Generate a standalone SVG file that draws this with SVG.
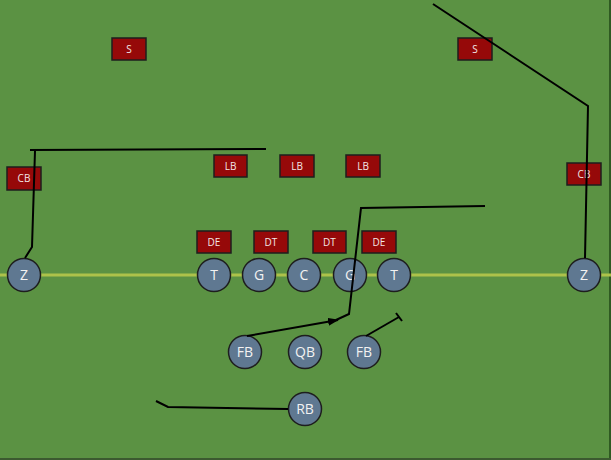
<svg xmlns="http://www.w3.org/2000/svg" width="611" height="460" viewBox="0 0 611 460">
<style>
.def rect{fill:#960909;stroke:#1e1e1e;stroke-width:1.5}
.def text{fill:#f2e6e6;font-family:"Open Sans","DejaVu Sans",sans-serif;font-size:10px;text-anchor:middle}
.off circle{fill:#5f7891;stroke:#1e1e1e;stroke-width:1.5}
.off text{fill:#f2f2f2;font-family:"Open Sans","DejaVu Sans",sans-serif;font-size:14px;text-anchor:middle}
.route{fill:none;stroke:#000;stroke-width:2;stroke-linejoin:miter}
</style>
<defs>
<marker id="arrow" markerWidth="11" markerHeight="8" refX="10" refY="4" orient="auto" markerUnits="userSpaceOnUse">
<path d="M0,0 L11,4 L0,8 Z" fill="#000"/>
</marker>
</defs>
<rect x="0" y="0" width="611" height="460" fill="#5b9243"/>
<line x1="610" y1="0" x2="610" y2="460" stroke="#2f5a22" stroke-width="2"/>
<line x1="0" y1="459" x2="611" y2="459" stroke="#3c5a30" stroke-width="2"/>
<line id="scrimmage" x1="0" y1="275" x2="611" y2="275" stroke="#adc24a" stroke-width="3"/>

<g class="def">
<g id="s-left"><rect x="112" y="38" width="34" height="22"/><text x="129" y="52.5">S</text></g>
<g id="s-right"><rect x="458" y="38" width="34" height="22"/><text x="475" y="52.5">S</text></g>
<g id="cb-left"><rect x="7" y="167" width="34" height="23"/><text x="24" y="182">CB</text></g>
<g id="cb-right"><rect x="567" y="163" width="34" height="22"/><text x="584" y="177.5">CB</text></g>
<g id="lb-1"><rect x="214" y="155" width="33" height="22"/><text x="230.5" y="169.5">LB</text></g>
<g id="lb-2"><rect x="280" y="155" width="34" height="22"/><text x="297" y="169.5">LB</text></g>
<g id="lb-3"><rect x="346" y="155" width="34" height="22"/><text x="363" y="169.5">LB</text></g>
<g id="de-left"><rect x="197" y="231" width="34" height="22"/><text x="214" y="245.5">DE</text></g>
<g id="dt-left"><rect x="254" y="231" width="34" height="22"/><text x="271" y="245.5">DT</text></g>
<g id="dt-right"><rect x="313" y="231" width="33" height="22"/><text x="329.5" y="245.5">DT</text></g>
<g id="de-right"><rect x="362" y="231" width="34" height="22"/><text x="379" y="245.5">DE</text></g>
</g>

<g class="off">
<g id="z-left"><circle cx="24" cy="275" r="16.5"/><text x="24" y="280">Z</text></g>
<g id="t-left"><circle cx="214" cy="275" r="16.5"/><text x="214" y="280">T</text></g>
<g id="g-left"><circle cx="259" cy="275" r="16.5"/><text x="259" y="280">G</text></g>
<g id="c"><circle cx="304" cy="275" r="16.5"/><text x="304" y="280">C</text></g>
<g id="g-right"><circle cx="350" cy="275" r="16.5"/><text x="350" y="280">G</text></g>
<g id="t-right"><circle cx="394" cy="275" r="16.5"/><text x="394" y="280">T</text></g>
<g id="z-right"><circle cx="584" cy="275" r="16.5"/><text x="584" y="280">Z</text></g>
<g id="fb-left"><circle cx="245" cy="352" r="16.5"/><text x="245" y="357">FB</text></g>
<g id="qb"><circle cx="305" cy="352" r="16.5"/><text x="305" y="357">QB</text></g>
<g id="fb-right"><circle cx="364" cy="352" r="16.5"/><text x="364" y="357">FB</text></g>
<g id="rb"><circle cx="305" cy="409" r="16.5"/><text x="305" y="414">RB</text></g>
</g>

<g id="connectors">
<path class="route" d="M25,258 L32,247 L35,151"/>
<path class="route" d="M30,150 L266,149"/>
<path class="route" d="M585,258 L588,106 L433,4"/>
<path class="route" d="M247,336 L338,320" marker-end="url(#arrow)"/>
<path class="route" d="M336,320 L349,314 L361,208 L485,206"/>
<path class="route" d="M366,336 L399,317"/>
<path class="route" d="M396,313 L402,321"/>
<path class="route" d="M288,409 L168,407 L156,401"/>
</g>
</svg>
